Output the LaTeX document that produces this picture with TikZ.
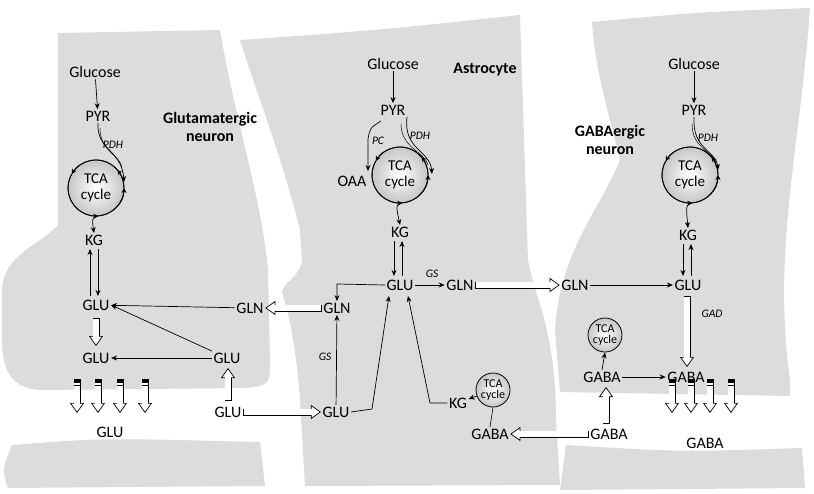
\documentclass[tikz,border=0pt]{standalone}
\usepackage{fontspec}
\setmainfont{Carlito}
\usetikzlibrary{arrows.meta,calc}
\definecolor{cell}{HTML}{DCDCDC}
\tikzset{
 t/.style={font=\fontsize{16}{17}\selectfont, inner sep=1.5pt},
 lab/.style={font=\fontsize{16}{18}\selectfont\bfseries, align=center},
 enz/.style={font=\fontsize{11.5}{12}\selectfont\itshape, inner sep=1pt},
 ar/.style={-{Stealth[length=6pt,width=5pt]}, line width=0.7pt},
 tca/.style={circle, draw, line width=0.8pt, shading=radial, inner color=white, outer color=gray!45, minimum size=#1, align=center, inner sep=0pt, font=\fontsize{15}{16}\selectfont},
}
\newcommand\harr[2]{%
 \draw[-{Triangle[open,fill=white,length=10pt,width=14pt]}, line width=0.7pt] ($(#2)!11pt!(#1)$)--(#2);
 \draw[line width=7pt] (#1)--($(#2)!10pt!(#1)$);
 \draw[white, line width=5.6pt] ($(#1)!0.7pt!(#2)$)--($(#2)!8.5pt!(#1)$);}
\newcommand\cyc[2]{% centre, radius
 \foreach \a/\b in {210/85,85/0,0/-40,-40/-150}{
  \draw[-{Stealth[length=5pt,width=5pt]}, line width=0.8pt] ($(#1)+(\a:#2)$) arc[start angle=\a, end angle=\b, radius=#2];}}
\newcommand\rel[1]{%
 \coordinate (r1) at ($(#1)+(0,0)$); \coordinate (r2) at ($(#1)+(0,32)$);
 \harr{r1}{r2}
 \fill ($(#1)+(-3.5,-2)$) rectangle ($(#1)+(3.5,1.5)$);
 \fill ($(#1)+(-3.5,3.5)$) rectangle ($(#1)+(3.5,4.5)$);}
\begin{document}
\begin{tikzpicture}[x=1pt,y=-1pt]
\useasboundingbox (0,0) rectangle (814,493);
% cells
\fill[cell] (58,33) -- (220,30) .. controls (235,120) and (262,200) .. (268,270) -- (270,360) .. controls (270,385) .. (245,388) -- (40,390) .. controls (15,388) and (2,375) .. (2,340) -- (2,290) .. controls (3,255) and (40,245) .. (58,225) -- cycle;
\fill[cell] (12,445) .. controls (100,438) .. (260,442) -- (265,486) -- (8,488) .. controls (2,470) .. (12,445) -- cycle;
\fill[cell] (240,40) .. controls (380,30) .. (520,15) -- (528,260) .. controls (535,300) and (556,330) .. (556,420) -- (560,485) -- (305,486) -- (300,400) .. controls (296,340) and (286,305) .. (282,292) .. controls (284,282) and (298,278) .. (302,262) -- (300,230) .. controls (280,150) and (252,80) .. (240,40) -- cycle;
\fill[cell] (592,22) .. controls (700,12) .. (810,8) .. controls (800,150) and (772,250) .. (790,380) -- (790,396) -- (560,392) -- (555,330) .. controls (560,250) and (600,210) .. (620,160) .. controls (608,110) and (595,70) .. (592,22) -- cycle;
\fill[cell] (566,445) .. controls (680,452) .. (802,448) -- (805,488) -- (560,490) -- cycle;
% labels
\node[lab] (ln) at (210,127) {Glutamatergic\\neuron};
\node[lab] (la) at (485,70) {Astrocyte};
\node[lab] (lg) at (610,140) {GABAergic\\neuron};
% ---- left neuron
\node[t] (g1) at (95,72) {Glucose};
\node[t] (p1) at (98,116) {PYR};
\node[tca=56pt] (c1) at (96,188) {TCA\\cycle};
\node[t] (k1) at (94,240) {KG};
\node[t] (u1) at (96,305) {GLU};
\node[t] (n1) at (250,308) {GLN};
\node[t] (u2) at (96,358) {GLU};
\node[t] (u3) at (227,358) {GLU};
\node[t] (u4) at (228,412) {GLU};
\node[t] (uo) at (110,432) {GLU};
\node[enz] at (113,145) {PDH};
\cyc{c1}{28}
\draw[ar] (g1) -- (p1);
\draw[ar] (p1.south) .. controls (96,150) and (122,150) .. (124,182);
\draw[line width=0.5pt] (100,128) .. controls (100,152) and (120,154) .. (122,168);
\draw[ar] (96,216) .. controls (92,219) .. (k1.north);
\draw[ar] (90,296) -- (90,249);
\draw[ar] (98,249) -- (98,296);
\draw[ar] (n1) -- (u1);
\draw[ar] (u3) -- (u1.east);
\draw[ar] (u3) -- (u2.east);
\coordinate (a1s) at (96,318); \coordinate (a1e) at (96,346); \harr{a1s}{a1e}
\coordinate (a2s) at (228,401); \coordinate (a2e) at (228,368); \harr{a2s}{a2e}
\foreach \x in {77,98,120,145}{\coordinate (rr) at (\x,381); \rel{rr}}
% ---- astrocyte
\node[t] (g2) at (393,64) {Glucose};
\node[t] (p2) at (393,110) {PYR};
\node[tca=56pt] (c2) at (400,175) {TCA\\cycle};
\node[t] (o2) at (352,181) {OAA};
\node[t] (k2) at (400,232) {KG};
\node[t] (u5) at (400,285) {GLU};
\node[t] (n2) at (460,285) {GLN};
\node[t] (n3) at (337,308) {GLN};
\node[t] (u6) at (336,412) {GLU};
\node[t] (k3) at (458,403) {KG};
\node[tca=34pt, font=\fontsize{12}{11}\selectfont] (c3) at (493,390) {TCA\\cycle};
\node[t] (b1) at (490,434) {GABA};
\node[enz] at (378,141) {PC};
\node[enz] at (420,136) {PDH};
\node[enz] at (432,274) {GS};
\node[enz] at (325,357) {GS};
\cyc{c2}{28}
\draw[ar] (g2) -- (p2);
\draw[ar] (p2.south east) .. controls (403,150) and (430,150) .. (432,174);
\draw[line width=0.5pt] (401,124) .. controls (401,148) and (425,152) .. (428,165);
\draw[ar] (381,121) .. controls (370,128) .. (368,139) -- (368,171);
\draw[ar] (400,203) .. controls (396,206) .. (k2.north);
\draw[ar] (394,241) -- (394,276);
\draw[ar] (402,276) -- (402,241);
\draw[ar] (u5) -- (n2);
\draw[ar] (u5.west) -- (337,284) -- (n3.north);
\draw[ar] (u6) -- (n3);
\draw[ar] (u6.east) -- (372,409) -- (389,296);
\draw[ar] (k3.west) -- (430,403) -- (408,296);
\draw[ar] (c3) -- (k3);
\draw[line width=0.6pt] (b1.north) -- (c3.south);
\harr{n3.west}{n1.east}
\harr{u4.east}{u6.west}
% ---- GABAergic
\node[t] (g3) at (694,64) {Glucose};
\node[t] (p3) at (694,110) {PYR};
\node[tca=56pt] (c4) at (690,175) {TCA\\cycle};
\node[t] (k4) at (688,235) {KG};
\node[t] (u7) at (688,285) {GLU};
\node[t] (n4) at (575,285) {GLN};
\node[enz] at (708,138) {PDH};
\node[enz] at (712,314) {GAD};
\node[t] (b2) at (686,377) {GABA};
\node[t] (b3) at (602,377) {GABA};
\node[tca=34pt, font=\fontsize{12}{11}\selectfont] (c5) at (605,335) {TCA\\cycle};
\node[t] (b4) at (609,434) {GABA};
\node[t] (bo) at (705,443) {GABA};
\harr{n2.east}{n4.west}
\cyc{c4}{28}
\draw[ar] (g3) -- (p3);
\draw[ar] (p3.south) .. controls (692,150) and (716,150) .. (718,170);
\draw[line width=0.5pt] (692,124) .. controls (692,148) and (713,152) .. (716,162);
\draw[ar] (690,203) .. controls (686,206) .. (k4.north);
\draw[ar] (683,244) -- (683,276);
\draw[ar] (691,276) -- (691,244);
\draw[ar] (n4) -- (u7);
\draw[ar] (b3) -- (b2);
\draw[ar] (b3.north) -- (c5.south);
\coordinate (a3s) at (687,296); \coordinate (a3e) at (687,367); \harr{a3s}{a3e}
\coordinate (a4s) at (606,424); \coordinate (a4e) at (606,387); \harr{a4s}{a4e}
\harr{b4.west}{b1.east}
\foreach \x in {672,691,710,731}{\coordinate (rr) at (\x,381); \rel{rr}}
\end{tikzpicture}
\end{document}
